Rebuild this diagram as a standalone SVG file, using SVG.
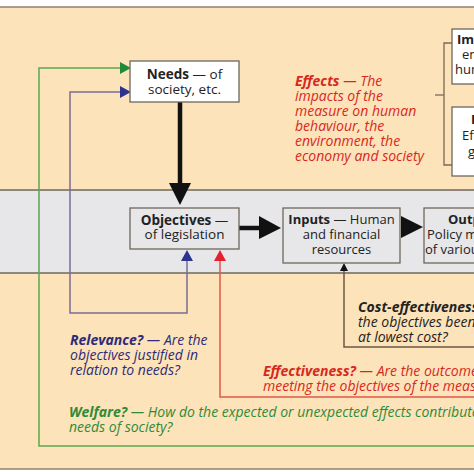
<svg xmlns="http://www.w3.org/2000/svg" width="474" height="474" viewBox="0 0 474 474">
<defs>
<style>
text{font-family:"Open Sans","Noto Sans","DejaVu Sans",sans-serif;font-size:13.5px}
.n{fill:#222}
.b{font-weight:bold}
.s{font-size:13px}
.i{font-style:italic;font-size:14px}
.red{fill:#d8281e}
.navy{fill:#2d2b7a}
.grn{fill:#2f8a3a}
.box{fill:#fff;stroke:#6e685c;stroke-width:1.3}
.gbox{fill:#e7e7e9;stroke:#6e685c;stroke-width:1.3}
</style>
</defs>
<rect x="0" y="0" width="474" height="474" fill="#fff"/>
<rect x="0" y="7" width="474" height="462" fill="#fde3b9"/>
<line x1="0" y1="7" x2="474" y2="7" stroke="#8a8274" stroke-width="1.5"/>
<line x1="0" y1="469" x2="474" y2="469" stroke="#8a8274" stroke-width="1.5"/>
<rect x="0" y="190" width="474" height="83" fill="#e7e7e9"/>
<line x1="0" y1="190" x2="474" y2="190" stroke="#6e685c" stroke-width="1.5"/>
<line x1="0" y1="273" x2="474" y2="273" stroke="#6e685c" stroke-width="1.5"/>

<g id="connectors">
<polyline points="474,446 39,446 39,68 121,68" fill="none" stroke="#5aa84f" stroke-width="1.5"/>
<polygon points="120,62 131,68 120,74" fill="#1e8a3a"/>
<polyline points="187,259 187,313 70,313 70,92 121,92" fill="none" stroke="#7a6e98" stroke-width="1.5"/>
<polygon points="120,86 131,92 120,98" fill="#2b3590"/>
<polygon points="181,261 187,250 193,261" fill="#2b3590"/>
<polyline points="220,259 220,397 474,397" fill="none" stroke="#e0584a" stroke-width="1.5"/>
<polygon points="214,261 220,250 226,261" fill="#e8202e"/>
<polyline points="344,269 344,347 474,347" fill="none" stroke="#6b5a45" stroke-width="1.5"/>
<polygon points="340,271 344,263 348,271" fill="#111"/>
<line x1="180" y1="102" x2="180" y2="185" stroke="#111" stroke-width="4.5"/>
<polygon points="169,183 191,183 180,205" fill="#111"/>
<line x1="239" y1="228" x2="261" y2="228" stroke="#111" stroke-width="4.5"/>
<polygon points="259,216 259,239 281,228" fill="#111"/>
<polygon points="401,216 401,238 423,227" fill="#111"/>
<polyline points="452,43 444,43 444,165 452,165" fill="none" stroke="#7a6a55" stroke-width="1.3"/>
<line x1="435" y1="95" x2="444" y2="95" stroke="#7a6a55" stroke-width="1.3"/>
</g>

<g id="needs">
<rect class="box" x="130" y="61" width="109" height="41"/>
<text x="184.5" y="79" text-anchor="middle" class="n"><tspan class="b">Needs</tspan> — of</text>
<text x="184.5" y="94" text-anchor="middle" class="n">society, etc.</text>
</g>

<g id="objectives">
<rect class="gbox" x="130" y="208" width="109" height="41"/>
<text x="184.5" y="225" text-anchor="middle" class="n"><tspan class="b">Objectives</tspan> —</text>
<text x="184.5" y="239" text-anchor="middle" class="n">of legislation</text>
</g>

<g id="inputs">
<rect class="gbox" x="283" y="208" width="117" height="55"/>
<text x="341.5" y="224" text-anchor="middle" class="n s"><tspan class="b">Inputs</tspan> — Human</text>
<text x="341.5" y="239" text-anchor="middle" class="n s">and financial</text>
<text x="341.5" y="254" text-anchor="middle" class="n s">resources</text>
</g>

<g id="outputs">
<rect class="gbox" x="424" y="208" width="60" height="55"/>
<text x="448" y="224" class="n s"><tspan class="b">Outputs</tspan> —</text>
<text x="427" y="239" class="n s">Policy measures</text>
<text x="425" y="254" class="n s">of various kinds</text>
</g>

<g id="impacts">
<rect class="box" x="452" y="29" width="40" height="55"/>
<text x="457" y="44" class="n b s">Impacts —</text>
<text x="462" y="59" class="n s">environment,</text>
<text x="455" y="74" class="n s">human</text>
</g>

<g id="results">
<rect class="box" x="452" y="107" width="40" height="69"/>
<text x="471" y="124" class="n b s">Results —</text>
<text x="462" y="140" class="n s">Effects</text>
<text x="468" y="156" class="n s">gained</text>
</g>

<g id="effects">
<text x="295" y="86" class="red i"><tspan class="b">Effects</tspan> — The</text>
<text x="295" y="101" class="red i">impacts of the</text>
<text x="295" y="116" class="red i">measure on human</text>
<text x="295" y="131" class="red i">behaviour, the</text>
<text x="295" y="146" class="red i">environment, the</text>
<text x="295" y="161" class="red i">economy and society</text>
</g>

<g id="cost-effectiveness">
<text x="358" y="312" class="n i"><tspan class="b">Cost-effectiveness?</tspan> — Have</text>
<text x="358" y="327" class="n i">the objectives been achieved</text>
<text x="358" y="342" class="n i">at lowest cost?</text>
</g>

<g id="effectiveness">
<text x="263" y="376" class="red i"><tspan class="b">Effectiveness?</tspan> — Are the outcomes</text>
<text x="263" y="391" class="red i">meeting the objectives of the measure?</text>
</g>

<g id="relevance">
<text x="70" y="345" class="navy i"><tspan class="b">Relevance?</tspan> — Are the</text>
<text x="70" y="360" class="navy i">objectives justified in</text>
<text x="70" y="375" class="navy i">relation to needs?</text>
</g>

<g id="welfare">
<text x="69" y="417" class="grn i"><tspan class="b">Welfare?</tspan> — How do the expected or unexpected effects contribute to the</text>
<text x="69" y="432" class="grn i">needs of society?</text>
</g>
</svg>
